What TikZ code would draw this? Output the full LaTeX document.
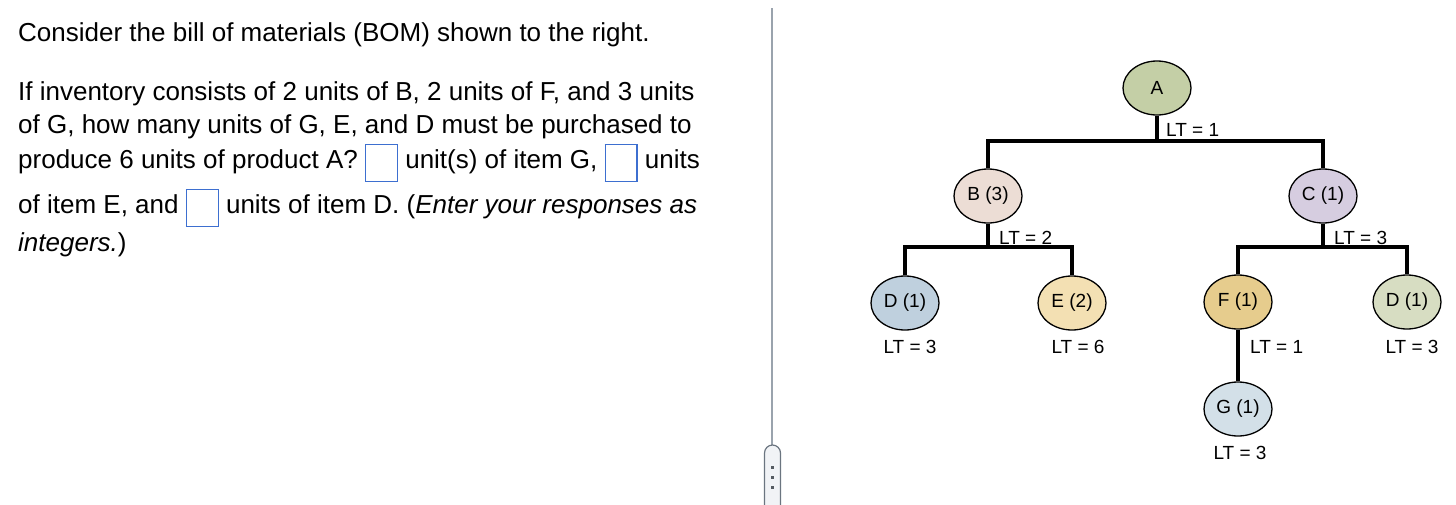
\documentclass[tikz,border=0pt]{standalone}
\usepackage{xcolor}
\usepackage{fontspec}
\setmainfont{Liberation Sans}
\usepackage{tikz}
\usetikzlibrary{shapes.geometric}
\usetikzlibrary{calc}
\definecolor{partA}{HTML}{C4CFA6}
\definecolor{partB}{HTML}{ECDDD5}
\definecolor{partC}{HTML}{D6CDE0}
\definecolor{partD}{HTML}{BFD0DE}
\definecolor{partE}{HTML}{F3E0B3}
\definecolor{partF}{HTML}{E6CC8D}
\definecolor{partG}{HTML}{D3E0E8}
\definecolor{partDr}{HTML}{D7DDC2}
\definecolor{divgray}{HTML}{9AA3AD}
\definecolor{handlegray}{HTML}{6B7580}
\definecolor{handlefill}{HTML}{F1F3F6}
\definecolor{dotgray}{HTML}{555B62}
\definecolor{ansblue}{HTML}{3D6FD0}
\newcommand{\ansbox}{{\setlength{\fboxrule}{1.3pt}\setlength{\fboxsep}{0pt}%
  \raisebox{-12.5pt}{\fcolorbox{ansblue}{white}{\rule{0pt}{35.4pt}\hspace{30.4pt}}}}}
\tikzset{
  part/.style={ellipse, draw=black, line width=1.3pt, minimum width=68pt,
    minimum height=54pt, inner sep=0pt, font=\fontsize{19}{21}\selectfont},
  link/.style={black, line width=4pt},
  lt/.style={inner sep=0pt, font=\fontsize{19}{21}\selectfont},
  qline/.style={anchor=base west, inner sep=0pt, font=\fontsize{26}{30}\selectfont}
}

\begin{document}
\begin{tikzpicture}[x=1pt, y=-1pt]
\useasboundingbox (0,0) rectangle (1456,504);
% question text
\node[qline] (q1) at (18,41) {Consider the bill of materials (BOM) shown to the right.};
\node[qline] (q2) at (18,100) {If inventory consists of 2 units of B, 2 units of F, and 3 units};
\node[qline] (q3) at (18,133) {of G, how many units of G, E, and D must be purchased to};
\node[qline] (q4) at (18,168) {produce 6 units of product A? \ansbox{} unit(s) of item G, \ansbox{} units};
\node[qline] (q5) at (18,213) {of item E, and \ansbox{} units of item D. (\textit{Enter your responses as}};
\node[qline] (q6) at (18,251) {\textit{integers.})};
% divider
\draw[divgray, line width=1.5pt] (772,8) -- (772,445);
\draw[handlegray, fill=handlefill, line width=1.2pt, rounded corners=8pt] (764.5,445) rectangle (780.5,525);
\foreach \y in {467,477,487} {
 \fill[dotgray] (770.5,\y-1.5) rectangle ++(3,3);
}
% parts
\node[part, fill=partA] (A) at (1157,88) {A};
\node[part, fill=partB] (B) at (988,196) {B (3)};
\node[part, fill=partC] (C) at (1323,196) {C (1)};
\node[part, fill=partD] (D1) at (905,303) {D (1)};
\node[part, fill=partE] (E) at (1072,303) {E (2)};
\node[part, fill=partF] (F) at (1238,302) {F (1)};
\node[part, fill=partDr] (D2) at (1407,302) {D (1)};
\node[part, fill=partG] (G) at (1238,409) {G (1)};
% structure lines
\coordinate (jA) at (1157,141);
\coordinate (jB) at (988,247);
\coordinate (jC) at (1323,247);
\draw[link] (A.south) -- (jA);
\draw[link] (B.north) |- (jA) -| (C.north);
\draw[link] (B.south) -- (jB);
\draw[link] (D1.north) |- (jB) -| (E.north);
\draw[link] (C.south) -- (jC);
\draw[link] (F.north) |- (jC) -| (D2.north);
\draw[link] (F.south) -- (G.north);
% lead times
\node[lt, anchor=west] (ltA) at (1166,130) {LT = 1};
\node[lt, anchor=west] (ltB) at (999,238) {LT = 2};
\node[lt, anchor=west] (ltC) at (1334,238) {LT = 3};
\node[lt, anchor=west] (ltF) at (1250,347) {LT = 1};
\node[lt] (ltD1) at (910,347) {LT = 3};
\node[lt] (ltE) at (1078,347) {LT = 6};
\node[lt] (ltD2) at (1412,347) {LT = 3};
\node[lt] (ltG) at (1240,453) {LT = 3};
\end{tikzpicture}
\end{document}
